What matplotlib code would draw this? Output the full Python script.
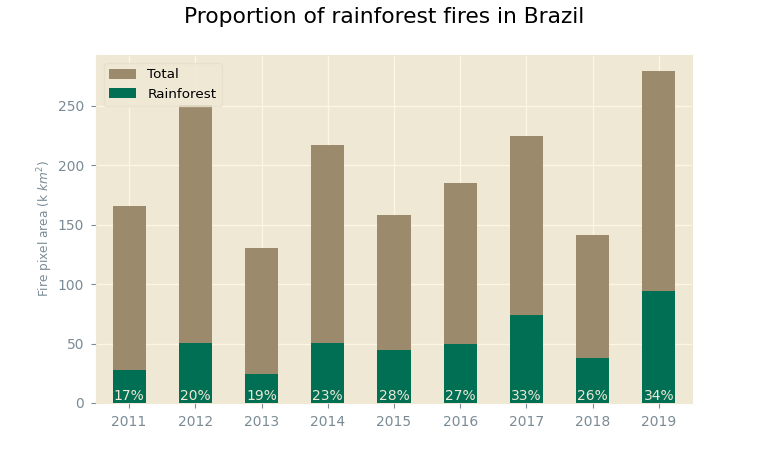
import matplotlib.pyplot as plt
import numpy as np

# Fire pixel area (k km^2)
years = ['2011', '2012', '2013', '2014', '2015', '2016', '2017', '2018', '2019']
total = [166, 251, 130, 217, 158, 185, 225, 141, 279]
rainforest = [28, 50.5, 24.5, 50.5, 44.5, 50, 74, 37.5, 94.5]
pct_labels = ['17%', '20%', '19%', '23%', '28%', '27%', '33%', '26%', '34%']

plt.style.use('Solarize_Light2')

fig = plt.figure(figsize=(7.68, 4.61), dpi=100, facecolor='white')
ax = fig.add_axes([0.125, 0.126, 0.776, 0.755])

x = np.arange(len(years))
ax.bar(x, total, width=0.5, color='#9c8a6c', label='Total', zorder=2)
ax.bar(x, rainforest, width=0.5, color='#006f53', label='Rainforest', zorder=3)

for i, lab in enumerate(pct_labels):
    ax.text(x[i], 0.3, lab, ha='center', va='bottom', color='#eee8d5',
            fontsize=10, zorder=4)

ax.set_xticks(x)
ax.set_xticklabels(years)
ax.set_xlim(-0.5, len(years) - 0.5)
ax.set_ylim(0, max(total) * 1.05)
ax.set_ylabel('Fire pixel area (k $km^2$)', fontsize=8.7, color='#7a8b95')
ax.yaxis.set_label_coords(-0.068, 0.5)
ax.tick_params(labelsize=10, colors='#7a8b95', labelcolor='#7a8b95', pad=5)
ax.grid(True, color='#fdf6e3', linewidth=1)
ax.set_axisbelow(True)

fig.suptitle('Proportion of rainforest fires in Brazil', fontsize=15.7, y=0.985)
ax.set_title('')

leg = ax.legend(loc='upper left', fontsize=9.7, handlelength=2.0,
                handleheight=0.75, borderaxespad=0.6)
leg.get_frame().set_facecolor('#eee8d5')
leg.get_frame().set_edgecolor('#e6dfc9')

fig.savefig('out.png', dpi=100, facecolor='white')
